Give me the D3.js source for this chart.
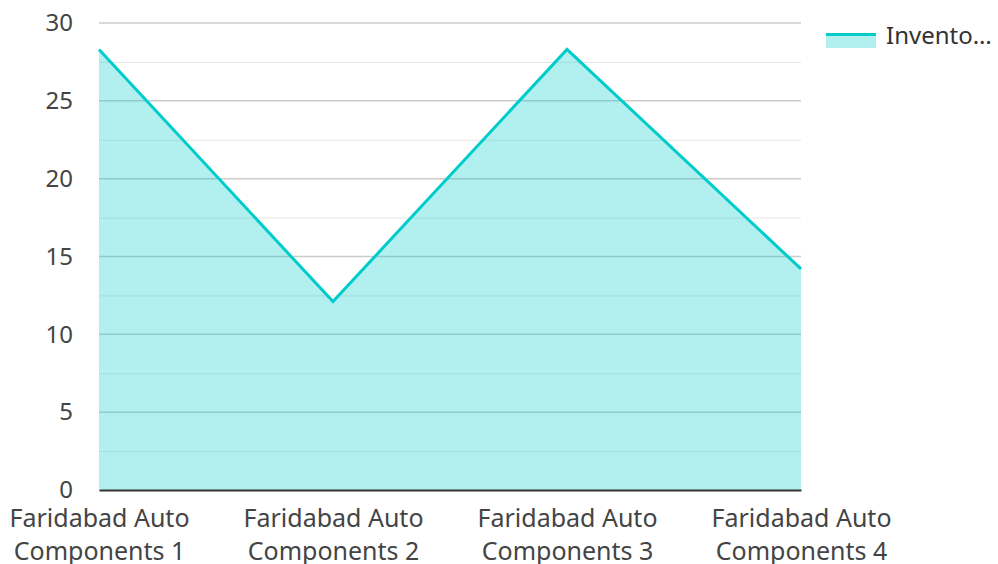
<!DOCTYPE html>
<html>
<head>
<meta charset="utf-8">
<script src="https://cdn.jsdelivr.net/npm/d3@7/dist/d3.min.js"></script>
<style>
  html, body { margin: 0; padding: 0; background: #fff; }
  svg { display: block; font-family: "Noto Sans", "Open Sans", sans-serif; }
</style>
</head>
<body>
<div id="chart"></div>
<script>
(function(){
    // data
    var categories  = ['Faridabad Auto Components 1', 'Faridabad Auto Components 2',
                       'Faridabad Auto Components 3', 'Faridabad Auto Components 4'];
    var values      = [28.3, 12.1, 28.3, 14.2];
    var yTicks      = [0, 5, 10, 15, 20, 25, 30];
    var seriesName  = 'Invento\u2026';

    // layout
    var WIDTH       = 998,
        HEIGHT      = 564,
        PLOT_LEFT   = 99,
        PLOT_RIGHT  = 801,
        PLOT_TOP    = 23,
        PLOT_BOTTOM = 490,
        LINE_COLOR  = '#00cccc',
        FILL_COLOR  = 'rgba(0,204,204,0.3)';

    var svg = d3.select('#chart').append('svg')
        .attr('width', WIDTH)
        .attr('height', HEIGHT);

    var x = d3.scalePoint()
        .domain(categories)
        .range([PLOT_LEFT, PLOT_RIGHT]);

    var y = d3.scaleLinear()
        .domain([0, 30])
        .range([PLOT_BOTTOM, PLOT_TOP]);

    // minor grid (every 2.5)
    var minor = d3.range(2.5, 30, 5);
    svg.append('g').selectAll('line')
        .data(minor).enter().append('line')
        .attr('x1', PLOT_LEFT).attr('x2', PLOT_RIGHT)
        .attr('y1', function(d){ return y(d) + 0.5; })
        .attr('y2', function(d){ return y(d) + 0.5; })
        .attr('stroke', '#e6e6e6')
        .attr('stroke-width', 1);

    // major grid
    svg.append('g').selectAll('line')
        .data(yTicks.filter(function(d){ return d > 0; })).enter().append('line')
        .attr('x1', PLOT_LEFT).attr('x2', PLOT_RIGHT)
        .attr('y1', function(d){ return y(d); })
        .attr('y2', function(d){ return y(d); })
        .attr('stroke', '#cccccc')
        .attr('stroke-width', 1.5);

    // area + line
    var area = d3.area()
        .x(function(d, i){ return x(categories[i]); })
        .y0(y(0))
        .y1(function(d){ return y(d); });

    var line = d3.line()
        .x(function(d, i){ return x(categories[i]); })
        .y(function(d){ return y(d); });

    svg.append('path')
        .datum(values)
        .attr('d', area)
        .attr('fill', FILL_COLOR);

    svg.append('path')
        .datum(values)
        .attr('d', line)
        .attr('fill', 'none')
        .attr('stroke', LINE_COLOR)
        .attr('stroke-width', 3)
        .attr('stroke-linejoin', 'miter');

    // y axis labels
    var yAxis = d3.axisLeft(y)
        .tickValues(yTicks)
        .tickSize(0)
        .tickPadding(26);

    var gy = svg.append('g')
        .attr('transform', 'translate(' + PLOT_LEFT + ',0)')
        .call(yAxis);
    gy.select('.domain').remove();
    gy.selectAll('text')
        .attr('fill', '#444')
        .style('font-size', '24px')
        .style('font-family', '"Noto Sans", sans-serif');

    // x axis
    var xAxis = d3.axisBottom(x).tickSize(0).tickPadding(0).tickFormat('');
    var gx = svg.append('g')
        .attr('transform', 'translate(0,' + PLOT_BOTTOM + ')')
        .call(xAxis);
    gx.select('.domain')
        .attr('stroke', '#333')
        .attr('stroke-width', 2);

    gx.selectAll('.tick').each(function(d){
        var words = d.split(' ');
        var t = d3.select(this).append('text')
            .attr('fill', '#444')
            .attr('text-anchor', 'middle')
            .style('font-size', '25px')
            .style('font-family', '"Noto Sans", sans-serif');
        t.append('tspan').attr('x', 0).attr('y', 37)
            .text(words.slice(0, 2).join(' '));
        t.append('tspan').attr('x', 0).attr('y', 70)
            .text(words.slice(2).join(' '));
    });

    // legend
    var lg = svg.append('g').attr('transform', 'translate(826,33)');
    lg.append('rect')
        .attr('x', 0).attr('y', 0)
        .attr('width', 50).attr('height', 15)
        .attr('fill', FILL_COLOR);
    lg.append('line')
        .attr('x1', 0).attr('x2', 50)
        .attr('y1', 1.5).attr('y2', 1.5)
        .attr('stroke', LINE_COLOR)
        .attr('stroke-width', 3);
    lg.append('text')
        .attr('x', 60).attr('y', 11)
        .attr('fill', '#333')
        .style('font-size', '24px')
        .text(seriesName);
})();
</script>
</body>
</html>
